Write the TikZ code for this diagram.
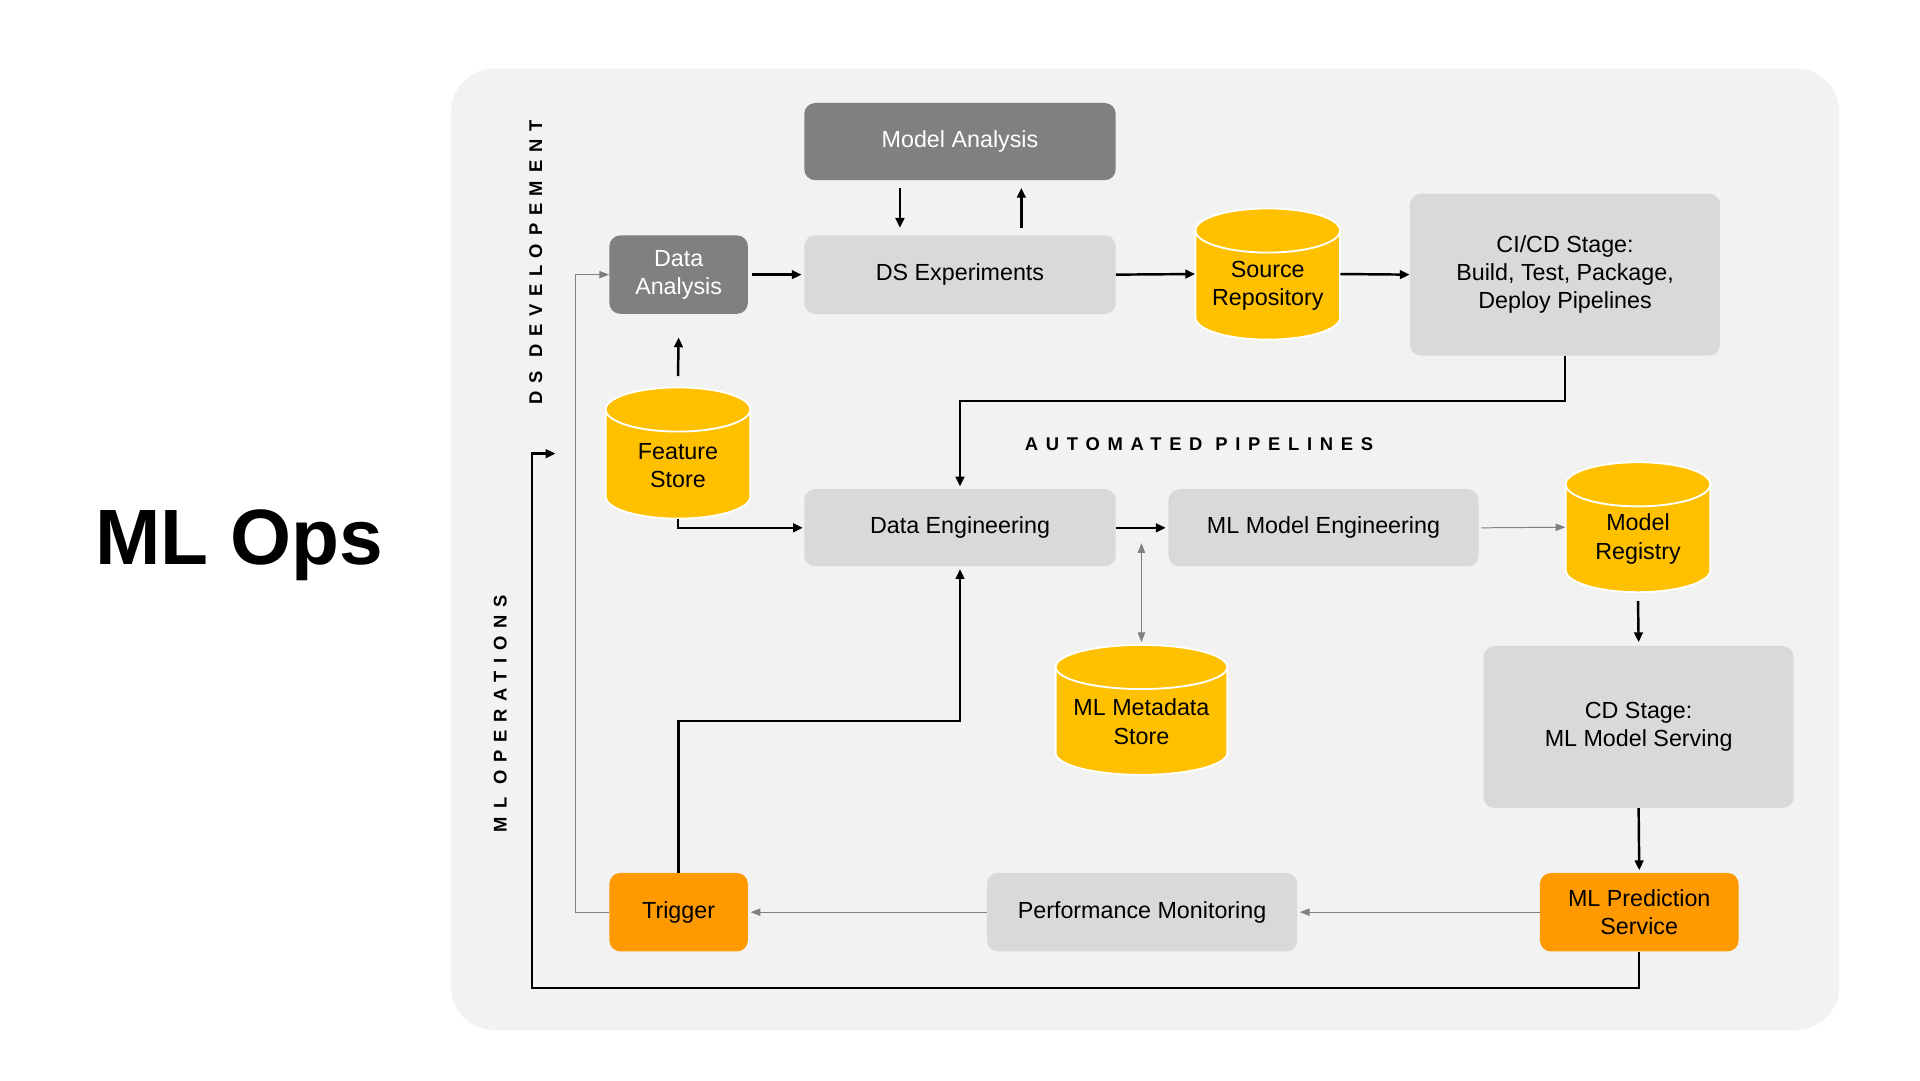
\documentclass[tikz,border=0pt]{standalone}
\usepackage{fontspec}
\setmainfont{Liberation Sans}
\usetikzlibrary{arrows.meta}
\definecolor{bg}{HTML}{F2F2F2}
\definecolor{dk}{HTML}{808080}
\definecolor{lt}{HTML}{D9D9D9}
\definecolor{yel}{HTML}{FFC000}
\definecolor{org}{HTML}{FF9900}
\tikzset{
 box/.style={rounded corners=9pt,inner sep=0pt,align=center,font=\fontsize{19}{23}\selectfont},
 dbox/.style={box,fill=dk,text=white},
 lbox/.style={box,fill=lt,text=black},
 obox/.style={box,fill=org,text=black},
 cylshape/.style={fill=yel,draw=white,line width=1.5pt},
 ctext/.style={inner sep=0pt,align=center,font=\fontsize{19}{23}\selectfont},
 ar/.style={-{Triangle[length=8pt,width=7pt]},line width=2pt},
 ga/.style={-{Triangle[length=8pt,width=6pt]},line width=0.8pt,draw=gray,color=gray},
 lab/.style={font=\bfseries\fontsize{15}{17}\selectfont\addfontfeatures{LetterSpace=42}}
}
% #1 name, #2 cx, #3 top, #4 width, #5 height, #6 text
\newcommand{\mycyl}[6]{%
  \pgfmathsetmacro{\hw}{#4/2}\pgfmathsetmacro{\bt}{#3+#5}%
  \path[cylshape] (#2-\hw,#3+18) -- (#2-\hw,\bt-18) arc[start angle=180,end angle=360,x radius=\hw,y radius=-18] -- (#2+\hw,#3+18) arc[start angle=0,end angle=180,x radius=\hw,y radius=-18] -- cycle;
  \draw[white,line width=1.5pt] (#2-\hw,#3+18) arc[start angle=180,end angle=360,x radius=\hw,y radius=-18];
  \node[ctext,minimum width=#4pt,minimum height=#5pt] (#1) at (#2,#3+#5/2) {\\[10pt]#6};
}
\begin{document}
\begin{tikzpicture}[x=1pt,y=-1pt]
\useasboundingbox (0,0) rectangle (1566,881);
\fill[white] (0,0) rectangle (1566,881);
\fill[bg,rounded corners=35pt] (368,56) rectangle (1500,840);
\node[font=\bfseries\fontsize{64}{70}\selectfont] (title) at (195,445) {ML Ops};
\node[lab,rotate=90] (ldev) at (437,214) {DS DEVELOPEMENT};
\node[lab,rotate=90] (lops) at (408,582) {ML OPERATIONS};
\node[lab] (lauto) at (978,362) {AUTOMATED PIPELINES};

\node[dbox,minimum width=254pt,minimum height=63pt] (ma) at (783,115.5) {Model Analysis};
\node[dbox,minimum width=113pt,minimum height=64pt] (da) at (553.5,224) {Data\\Analysis};
\node[lbox,minimum width=254pt,minimum height=64pt] (dse) at (783,224) {DS Experiments};
\mycyl{sr}{1034}{170}{118}{107}{Source\\Repository}
\node[lbox,minimum width=253pt,minimum height=132pt] (ci) at (1276.5,224) {CI/CD Stage:\\Build, Test, Package,\\Deploy Pipelines};
\mycyl{fs}{553}{316}{118}{107}{Feature\\Store}
\node[lbox,minimum width=254pt,minimum height=63pt] (de) at (783,430.5) {Data Engineering};
\node[lbox,minimum width=253pt,minimum height=63pt] (mme) at (1079.5,430.5) {ML Model Engineering};
\mycyl{mr}{1336}{377}{118}{106}{Model\\Registry}
\mycyl{mds}{931}{526}{140}{106}{ML Metadata\\Store}
\node[lbox,minimum width=253pt,minimum height=132pt] (cd) at (1336.5,593) {CD Stage:\\ML Model Serving};
\node[obox,minimum width=162pt,minimum height=64pt] (mps) at (1337,744) {ML Prediction\\Service};
\node[lbox,minimum width=253pt,minimum height=64pt] (pm) at (931.5,744) {Performance Monitoring};
\node[obox,minimum width=113pt,minimum height=64pt] (tr) at (553.5,744) {Trigger};

\coordinate (c1) at (434,370);
\coordinate (c2) at (453,370);

\draw[ar] ([xshift=-49pt,yshift=-6pt]ma.south) -- ([xshift=-49pt,yshift=6pt]dse.north);
\draw[ar] ([xshift=50pt,yshift=6pt]dse.north) -- ([xshift=50pt,yshift=-6pt]ma.south);
\draw[ar] ([xshift=3pt]da.east) -- ([xshift=-2pt]dse.west);
\draw[ar] (dse.east) -- (sr.west);
\draw[ar] (sr.east) -- (ci.west);
\draw[ar] (ci.south) -- ++(0,37) -| ([yshift=2pt]de.north);
\draw[ar] ([yshift=9pt]fs.north) -- ([yshift=-19pt]da.south);
\draw[ar] (fs.south) |- ([xshift=-1pt]de.west);
\draw[ar] (de.east) -- ([xshift=-2pt]mme.west);
\draw[ga] ([xshift=2pt]mme.east) -- (mr.west);
\draw[ga,{Triangle[length=8pt,width=6pt]}-{Triangle[length=8pt,width=6pt]}] (931,443) -- ([yshift=2pt]mds.north);
\draw[ar] ([yshift=-7pt]mr.south) -- ([yshift=3pt]cd.north);
\draw[ar] (cd.south) -- ([yshift=2pt]mps.north);
\draw[ga] (mps.west) -- ([xshift=2pt]pm.east);
\draw[ga] (pm.west) -- ([xshift=2pt]tr.east);
\draw[ar] (tr.north) |- (783,588) -- ([yshift=-2pt]de.south);
\draw[ga] (tr.west) -| (469,224) -- (da.west);
\draw[ar] (mps.south) |- (434,806) -- (c1) -- (c2);
\end{tikzpicture}
\end{document}
